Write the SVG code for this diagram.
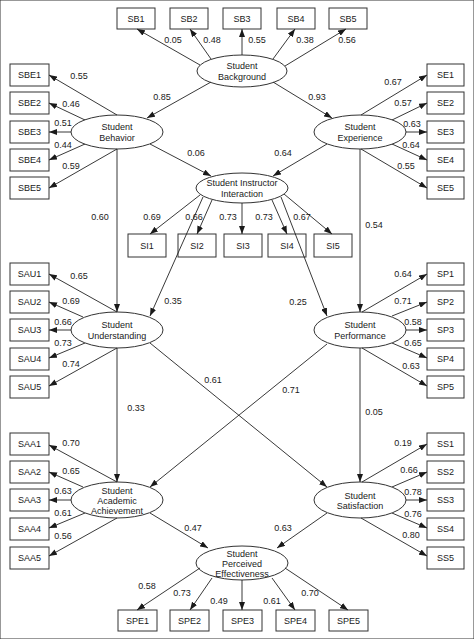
<svg xmlns="http://www.w3.org/2000/svg" width="474" height="639" viewBox="0 0 474 639">
<defs>
<marker id="ah" markerUnits="userSpaceOnUse" markerWidth="8" markerHeight="6" refX="8" refY="3" orient="auto">
<path d="M0,0 L8,3 L0,6 z" fill="#1a1a1a"/>
</marker>
<style>
text{font-family:"Liberation Sans",Arial,sans-serif;font-size:9px;fill:#1a1a1a;text-anchor:middle}
rect{fill:#fff;stroke:#333;stroke-width:1}
ellipse{fill:#fff;stroke:#333;stroke-width:1}
#edges line{stroke:#222;stroke-width:0.9;marker-end:url(#ah)}
</style>
</defs>
<rect width="474" height="639" fill="#fff" stroke="none"/>
<g id="student-background"><ellipse cx="242" cy="71" rx="45" ry="16"/><text x="242" y="69">Student</text><text x="242" y="80">Background</text></g>
<g id="student-behavior"><ellipse cx="117" cy="132" rx="46" ry="17"/><text x="117" y="130">Student</text><text x="117" y="141">Behavior</text></g>
<g id="student-experience"><ellipse cx="360" cy="132" rx="46" ry="17"/><text x="360" y="130">Student</text><text x="360" y="141">Experience</text></g>
<g id="student-instructor-interaction"><ellipse cx="242" cy="188" rx="46" ry="15"/><text x="242" y="186">Student Instructor</text><text x="242" y="197">Interaction</text></g>
<g id="student-understanding"><ellipse cx="117" cy="330" rx="46" ry="18"/><text x="117" y="328">Student</text><text x="117" y="339">Understanding</text></g>
<g id="student-performance"><ellipse cx="360" cy="330" rx="46" ry="18"/><text x="360" y="328">Student</text><text x="360" y="339">Performance</text></g>
<g id="student-academic-achievement"><ellipse cx="117" cy="500" rx="46" ry="18"/><text x="117" y="494">Student</text><text x="117" y="504">Academic</text><text x="117" y="514">Achievement</text></g>
<g id="student-satisfaction"><ellipse cx="360" cy="500" rx="46" ry="18"/><text x="360" y="499">Student</text><text x="360" y="509">Satisfaction</text></g>
<g id="student-perceived-effectiveness"><ellipse cx="242" cy="563" rx="46" ry="17"/><text x="242" y="557">Student</text><text x="242" y="567">Perceived</text><text x="242" y="577">Effectiveness</text></g>
<g id="SB1"><rect x="117" y="8" width="38" height="21"/><text x="136" y="21.5">SB1</text></g>
<g id="SB2"><rect x="170" y="8" width="38" height="21"/><text x="189" y="21.5">SB2</text></g>
<g id="SB3"><rect x="223" y="8" width="38" height="21"/><text x="242" y="21.5">SB3</text></g>
<g id="SB4"><rect x="277" y="8" width="38" height="21"/><text x="296" y="21.5">SB4</text></g>
<g id="SB5"><rect x="329" y="8" width="38" height="21"/><text x="348" y="21.5">SB5</text></g>
<g id="SBE1"><rect x="10" y="64" width="39" height="22"/><text x="29.5" y="78">SBE1</text></g>
<g id="SBE2"><rect x="10" y="92" width="39" height="22"/><text x="29.5" y="106">SBE2</text></g>
<g id="SBE3"><rect x="10" y="121" width="39" height="22"/><text x="29.5" y="135">SBE3</text></g>
<g id="SBE4"><rect x="10" y="149" width="39" height="22"/><text x="29.5" y="163">SBE4</text></g>
<g id="SBE5"><rect x="10" y="177" width="39" height="22"/><text x="29.5" y="191">SBE5</text></g>
<g id="SE1"><rect x="427" y="64" width="37" height="22"/><text x="445.5" y="78">SE1</text></g>
<g id="SE2"><rect x="427" y="92" width="37" height="22"/><text x="445.5" y="106">SE2</text></g>
<g id="SE3"><rect x="427" y="121" width="37" height="22"/><text x="445.5" y="135">SE3</text></g>
<g id="SE4"><rect x="427" y="149" width="37" height="22"/><text x="445.5" y="163">SE4</text></g>
<g id="SE5"><rect x="427" y="177" width="37" height="22"/><text x="445.5" y="191">SE5</text></g>
<g id="SI1"><rect x="128" y="234" width="38" height="23"/><text x="147" y="248.5">SI1</text></g>
<g id="SI2"><rect x="178" y="234" width="38" height="23"/><text x="197" y="248.5">SI2</text></g>
<g id="SI3"><rect x="224" y="234" width="38" height="23"/><text x="243" y="248.5">SI3</text></g>
<g id="SI4"><rect x="268" y="234" width="38" height="23"/><text x="287" y="248.5">SI4</text></g>
<g id="SI5"><rect x="314" y="234" width="38" height="23"/><text x="333" y="248.5">SI5</text></g>
<g id="SAU1"><rect x="10" y="263" width="39" height="22"/><text x="29.5" y="277">SAU1</text></g>
<g id="SAU2"><rect x="10" y="291" width="39" height="22"/><text x="29.5" y="305">SAU2</text></g>
<g id="SAU3"><rect x="10" y="319" width="39" height="22"/><text x="29.5" y="333">SAU3</text></g>
<g id="SAU4"><rect x="10" y="348" width="39" height="22"/><text x="29.5" y="362">SAU4</text></g>
<g id="SAU5"><rect x="10" y="376" width="39" height="22"/><text x="29.5" y="390">SAU5</text></g>
<g id="SP1"><rect x="427" y="263" width="37" height="22"/><text x="445.5" y="277">SP1</text></g>
<g id="SP2"><rect x="427" y="291" width="37" height="22"/><text x="445.5" y="305">SP2</text></g>
<g id="SP3"><rect x="427" y="319" width="37" height="22"/><text x="445.5" y="333">SP3</text></g>
<g id="SP4"><rect x="427" y="348" width="37" height="22"/><text x="445.5" y="362">SP4</text></g>
<g id="SP5"><rect x="427" y="376" width="37" height="22"/><text x="445.5" y="390">SP5</text></g>
<g id="SAA1"><rect x="10" y="433" width="39" height="22"/><text x="29.5" y="447">SAA1</text></g>
<g id="SAA2"><rect x="10" y="461" width="39" height="22"/><text x="29.5" y="475">SAA2</text></g>
<g id="SAA3"><rect x="10" y="489" width="39" height="22"/><text x="29.5" y="503">SAA3</text></g>
<g id="SAA4"><rect x="10" y="518" width="39" height="22"/><text x="29.5" y="532">SAA4</text></g>
<g id="SAA5"><rect x="10" y="547" width="39" height="22"/><text x="29.5" y="561">SAA5</text></g>
<g id="SS1"><rect x="427" y="433" width="37" height="22"/><text x="445.5" y="447">SS1</text></g>
<g id="SS2"><rect x="427" y="461" width="37" height="22"/><text x="445.5" y="475">SS2</text></g>
<g id="SS3"><rect x="427" y="489" width="37" height="22"/><text x="445.5" y="503">SS3</text></g>
<g id="SS4"><rect x="427" y="518" width="37" height="22"/><text x="445.5" y="532">SS4</text></g>
<g id="SS5"><rect x="427" y="547" width="37" height="22"/><text x="445.5" y="561">SS5</text></g>
<g id="SPE1"><rect x="118" y="610" width="39" height="21"/><text x="137.5" y="623.5">SPE1</text></g>
<g id="SPE2"><rect x="170" y="610" width="39" height="21"/><text x="189.5" y="623.5">SPE2</text></g>
<g id="SPE3"><rect x="223" y="610" width="39" height="21"/><text x="242.5" y="623.5">SPE3</text></g>
<g id="SPE4"><rect x="276" y="610" width="39" height="21"/><text x="295.5" y="623.5">SPE4</text></g>
<g id="SPE5"><rect x="329" y="610" width="39" height="21"/><text x="348.5" y="623.5">SPE5</text></g>
<g id="edges">
<line x1="200" y1="65" x2="137" y2="29"/>
<line x1="211" y1="59" x2="190" y2="29"/>
<line x1="242" y1="55" x2="242" y2="29"/>
<line x1="273" y1="59" x2="295" y2="29"/>
<line x1="285" y1="66" x2="346" y2="29"/>
<line x1="211" y1="82" x2="147" y2="118"/>
<line x1="273" y1="82" x2="332" y2="118"/>
<line x1="117" y1="115" x2="49" y2="75"/>
<line x1="85" y1="120" x2="49" y2="103"/>
<line x1="71" y1="132" x2="49" y2="132"/>
<line x1="85" y1="144" x2="49" y2="160"/>
<line x1="117" y1="149" x2="49" y2="188"/>
<line x1="361" y1="115" x2="427" y2="75"/>
<line x1="392" y1="120" x2="427" y2="103"/>
<line x1="406" y1="132" x2="427" y2="132"/>
<line x1="392" y1="144" x2="427" y2="160"/>
<line x1="361" y1="149" x2="427" y2="188"/>
<line x1="150" y1="144" x2="211" y2="176"/>
<line x1="327" y1="144" x2="273" y2="176"/>
<line x1="200" y1="195" x2="150" y2="234"/>
<line x1="212" y1="200" x2="197" y2="234"/>
<line x1="242" y1="203" x2="242" y2="234"/>
<line x1="272" y1="200" x2="287" y2="234"/>
<line x1="284" y1="194" x2="332" y2="234"/>
<line x1="203" y1="197" x2="150" y2="316"/>
<line x1="281" y1="197" x2="327" y2="316"/>
<line x1="117" y1="149" x2="117" y2="312"/>
<line x1="360" y1="149" x2="360" y2="312"/>
<line x1="117" y1="312" x2="49" y2="274"/>
<line x1="83" y1="317" x2="49" y2="302"/>
<line x1="71" y1="330" x2="49" y2="330"/>
<line x1="85" y1="343" x2="49" y2="358"/>
<line x1="117" y1="348" x2="49" y2="386"/>
<line x1="362" y1="312" x2="427" y2="274"/>
<line x1="392" y1="316" x2="427" y2="302"/>
<line x1="406" y1="330" x2="427" y2="330"/>
<line x1="392" y1="343" x2="427" y2="358"/>
<line x1="362" y1="348" x2="427" y2="386"/>
<line x1="117" y1="348" x2="117" y2="482"/>
<line x1="360" y1="348" x2="360" y2="482"/>
<line x1="150" y1="343" x2="327" y2="487"/>
<line x1="327" y1="344" x2="150" y2="487"/>
<line x1="117" y1="482" x2="49" y2="445"/>
<line x1="83" y1="487" x2="49" y2="472"/>
<line x1="71" y1="500" x2="49" y2="500"/>
<line x1="85" y1="513" x2="49" y2="528"/>
<line x1="117" y1="518" x2="49" y2="556"/>
<line x1="362" y1="482" x2="427" y2="444"/>
<line x1="392" y1="487" x2="427" y2="472"/>
<line x1="406" y1="500" x2="427" y2="500"/>
<line x1="392" y1="513" x2="427" y2="528"/>
<line x1="361" y1="518" x2="427" y2="556"/>
<line x1="150" y1="513" x2="208" y2="548"/>
<line x1="327" y1="513" x2="277" y2="548"/>
<line x1="200" y1="568" x2="137" y2="610"/>
<line x1="212" y1="578" x2="190" y2="610"/>
<line x1="242" y1="580" x2="242" y2="610"/>
<line x1="272" y1="578" x2="295" y2="610"/>
<line x1="285" y1="568" x2="348" y2="610"/>
</g>
<g id="edge-labels">
<text x="173" y="43">0.05</text><text x="212" y="43">0.48</text><text x="257" y="43">0.55</text><text x="305" y="43">0.38</text><text x="347" y="43">0.56</text>
<text x="79" y="79">0.55</text><text x="71" y="107">0.46</text><text x="63" y="126">0.51</text><text x="63" y="148">0.44</text><text x="71" y="169">0.59</text>
<text x="162" y="100">0.85</text><text x="317" y="100">0.93</text>
<text x="393" y="85">0.67</text><text x="403" y="106">0.57</text><text x="412" y="127">0.63</text><text x="411" y="148">0.64</text><text x="406" y="169">0.55</text>
<text x="196" y="156">0.06</text><text x="283" y="156">0.64</text>
<text x="152" y="220">0.69</text><text x="194" y="220">0.66</text><text x="228" y="220">0.73</text><text x="264" y="220">0.73</text><text x="302" y="220">0.67</text>
<text x="100" y="220">0.60</text><text x="374" y="228">0.54</text>
<text x="79" y="279">0.65</text><text x="71" y="304">0.69</text><text x="63" y="325">0.66</text><text x="63" y="346">0.73</text><text x="71" y="367">0.74</text>
<text x="173" y="304">0.35</text><text x="298" y="305">0.25</text>
<text x="403" y="277">0.64</text><text x="403" y="304">0.71</text><text x="413" y="325">0.58</text><text x="413" y="346">0.65</text><text x="411" y="369">0.63</text>
<text x="213" y="383">0.61</text><text x="291" y="393">0.71</text>
<text x="136" y="411">0.33</text><text x="374" y="415">0.05</text>
<text x="71" y="446">0.70</text><text x="71" y="474">0.65</text><text x="63" y="494">0.63</text><text x="63" y="516">0.61</text><text x="63" y="539">0.56</text>
<text x="403" y="446">0.19</text><text x="409" y="473">0.66</text><text x="413" y="495">0.78</text><text x="413" y="517">0.76</text><text x="411" y="538">0.80</text>
<text x="193" y="531">0.47</text><text x="283" y="531">0.63</text>
<text x="147" y="589">0.58</text><text x="182" y="596">0.73</text><text x="219" y="604">0.49</text><text x="272" y="604">0.61</text><text x="310" y="596">0.70</text>
</g>
</svg>
